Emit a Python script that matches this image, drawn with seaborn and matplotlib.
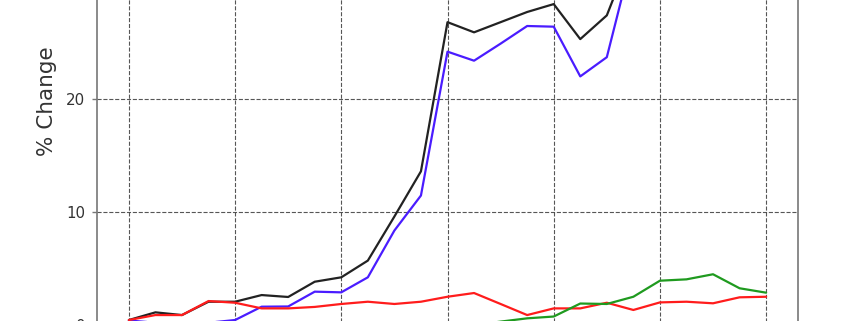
import matplotlib
matplotlib.use("Agg")
import matplotlib.pyplot as plt
import seaborn as sns
import pandas as pd

# ---- data ----
steps = list(range(25))
total = [0.44, 1.12, 0.88, 2.06, 2.06, 2.65, 2.48, 3.83, 4.22, 5.7, 9.6, 13.6,
         26.8, 25.9, 26.8, 27.7, 28.4, 25.3, 27.4, 33.4, 35.0, 36.0, 36.5, 37.0, 37.5]
comp_a = [0.4, 0.2, 0.2, 0.2, 0.44, 1.62, 1.64, 2.95, 2.89, 4.22, 8.36, 11.46,
          24.19, 23.39, 24.9, 26.46, 26.4, 22.0, 23.7, 33.0, 34.5, 35.5, 36.0, 36.5, 37.0]
comp_b = [0.44, 0.88, 0.88, 2.12, 1.97, 1.47, 1.47, 1.6, 1.86, 2.06, 1.86, 2.06,
          2.5, 2.83, 1.86, 0.88, 1.47, 1.47, 1.97, 1.33, 2.0, 2.06, 1.92, 2.45, 2.5]
comp_c = [-1.0, -1.2, -1.5, -1.8, -2.0, -2.2, -2.0, -1.8, -1.6, -1.4, -1.0, -0.6,
          -0.3, 0.0, 0.3, 0.59, 0.75, 1.9, 1.86, 2.5, 3.92, 4.04, 4.49, 3.25, 2.86]
series_names = ["Total", "Component A", "Component B", "Component C"]
series_colors = ["#222222", "#4a1cff", "#ff1c1c", "#1f9a1f"]
y_ticks = [0, 10, 20]
x_ticks = [0, 4, 8, 12, 16, 20, 24]
y_label = "% Change"

df = pd.DataFrame({
    "step": steps * 4,
    "value": total + comp_a + comp_b + comp_c,
    "series": sum([[n] * len(steps) for n in series_names], []),
})

sns.set_style("white")
plt.rcParams["font.family"] = ["DejaVu Sans"]

W, H = 845, 321
fig = plt.figure(figsize=(W / 100, H / 100), dpi=100)

ylo, yhi = -3, 40
px_per_unit = 11.3
zero_px = -4.0  # pixel (from figure bottom) of y=0
bot_px = zero_px + ylo * px_per_unit
top_px = zero_px + yhi * px_per_unit
left_px, right_px = 97, 798
ax = fig.add_axes([left_px / W, bot_px / H, (right_px - left_px) / W, (top_px - bot_px) / H])

sns.lineplot(data=df, x="step", y="value", hue="series", hue_order=series_names,
             palette=dict(zip(series_names, series_colors)), linewidth=1.6,
             legend=False, ax=ax, zorder=3)

ax.set_xlim(-1.2, 25.2)
ax.set_ylim(ylo, yhi)
ax.set_xticks(x_ticks)
ax.set_yticks(y_ticks)
ax.grid(True, linestyle="--", color="#444444", linewidth=0.8, alpha=0.9, zorder=0)
ax.set_axisbelow(True)

ax.tick_params(axis="x", bottom=False, labelbottom=False)
ax.tick_params(axis="y", left=True, length=3.6, width=1.0, color="#777777",
               labelsize=10.8, labelcolor="#333333", pad=5)
for s in ["left", "right", "top", "bottom"]:
    ax.spines[s].set_color("#777777")
    ax.spines[s].set_linewidth(1.2)

ax.set_xlabel("")
ax.set_ylabel(y_label, fontsize=15.5, color="#333333")
ax.yaxis.set_label_coords((57 - left_px) / (right_px - left_px),
                          (220 - bot_px) / (top_px - bot_px))

fig.savefig("out.png", dpi=100)
